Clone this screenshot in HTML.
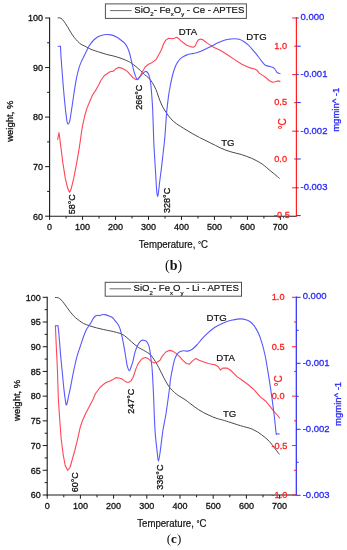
<!DOCTYPE html>
<html><head><meta charset="utf-8"><title>TG-DTA</title>
<style>
html,body{margin:0;padding:0;background:#fff;}
body{width:347px;height:550px;overflow:hidden;}
svg{display:block;font-family:"Liberation Sans", Arial, sans-serif;}
</style></head>
<body>
<svg width="347" height="550" viewBox="0 0 347 550">
<rect width="347" height="550" fill="#fff"/>
<line x1="49.60" y1="17.50" x2="49.60" y2="216.70" stroke="#1a1a1a" stroke-width="1.1"/>
<line x1="49.10" y1="216.20" x2="296.40" y2="216.20" stroke="#1a1a1a" stroke-width="1.1"/>
<line x1="45.10" y1="18.00" x2="49.60" y2="18.00" stroke="#1a1a1a" stroke-width="1.0"/>
<line x1="47.10" y1="42.77" x2="49.60" y2="42.77" stroke="#1a1a1a" stroke-width="1.0"/>
<line x1="45.10" y1="67.55" x2="49.60" y2="67.55" stroke="#1a1a1a" stroke-width="1.0"/>
<line x1="47.10" y1="92.32" x2="49.60" y2="92.32" stroke="#1a1a1a" stroke-width="1.0"/>
<line x1="45.10" y1="117.10" x2="49.60" y2="117.10" stroke="#1a1a1a" stroke-width="1.0"/>
<line x1="47.10" y1="141.88" x2="49.60" y2="141.88" stroke="#1a1a1a" stroke-width="1.0"/>
<line x1="45.10" y1="166.65" x2="49.60" y2="166.65" stroke="#1a1a1a" stroke-width="1.0"/>
<line x1="47.10" y1="191.42" x2="49.60" y2="191.42" stroke="#1a1a1a" stroke-width="1.0"/>
<line x1="45.10" y1="216.20" x2="49.60" y2="216.20" stroke="#1a1a1a" stroke-width="1.0"/>
<text x="43.10" y="21.30" fill="#111" stroke="#111" stroke-width="0.3" font-size="9" text-anchor="end" >100</text>
<text x="43.10" y="70.85" fill="#111" stroke="#111" stroke-width="0.3" font-size="9" text-anchor="end" >90</text>
<text x="43.10" y="120.40" fill="#111" stroke="#111" stroke-width="0.3" font-size="9" text-anchor="end" >80</text>
<text x="43.10" y="169.95" fill="#111" stroke="#111" stroke-width="0.3" font-size="9" text-anchor="end" >70</text>
<text x="43.10" y="219.50" fill="#111" stroke="#111" stroke-width="0.3" font-size="9" text-anchor="end" >60</text>
<line x1="49.60" y1="216.20" x2="49.60" y2="219.90" stroke="#1a1a1a" stroke-width="1.0"/>
<text x="49.60" y="229.90" fill="#111" stroke="#111" stroke-width="0.3" font-size="9" text-anchor="middle" >0</text>
<line x1="66.09" y1="216.20" x2="66.09" y2="218.50" stroke="#1a1a1a" stroke-width="1.0"/>
<line x1="82.57" y1="216.20" x2="82.57" y2="219.90" stroke="#1a1a1a" stroke-width="1.0"/>
<text x="82.57" y="229.90" fill="#111" stroke="#111" stroke-width="0.3" font-size="9" text-anchor="middle" >100</text>
<line x1="99.06" y1="216.20" x2="99.06" y2="218.50" stroke="#1a1a1a" stroke-width="1.0"/>
<line x1="115.54" y1="216.20" x2="115.54" y2="219.90" stroke="#1a1a1a" stroke-width="1.0"/>
<text x="115.54" y="229.90" fill="#111" stroke="#111" stroke-width="0.3" font-size="9" text-anchor="middle" >200</text>
<line x1="132.03" y1="216.20" x2="132.03" y2="218.50" stroke="#1a1a1a" stroke-width="1.0"/>
<line x1="148.51" y1="216.20" x2="148.51" y2="219.90" stroke="#1a1a1a" stroke-width="1.0"/>
<text x="148.51" y="229.90" fill="#111" stroke="#111" stroke-width="0.3" font-size="9" text-anchor="middle" >300</text>
<line x1="165.00" y1="216.20" x2="165.00" y2="218.50" stroke="#1a1a1a" stroke-width="1.0"/>
<line x1="181.48" y1="216.20" x2="181.48" y2="219.90" stroke="#1a1a1a" stroke-width="1.0"/>
<text x="181.48" y="229.90" fill="#111" stroke="#111" stroke-width="0.3" font-size="9" text-anchor="middle" >400</text>
<line x1="197.97" y1="216.20" x2="197.97" y2="218.50" stroke="#1a1a1a" stroke-width="1.0"/>
<line x1="214.45" y1="216.20" x2="214.45" y2="219.90" stroke="#1a1a1a" stroke-width="1.0"/>
<text x="214.45" y="229.90" fill="#111" stroke="#111" stroke-width="0.3" font-size="9" text-anchor="middle" >500</text>
<line x1="230.94" y1="216.20" x2="230.94" y2="218.50" stroke="#1a1a1a" stroke-width="1.0"/>
<line x1="247.42" y1="216.20" x2="247.42" y2="219.90" stroke="#1a1a1a" stroke-width="1.0"/>
<text x="247.42" y="229.90" fill="#111" stroke="#111" stroke-width="0.3" font-size="9" text-anchor="middle" >600</text>
<line x1="263.91" y1="216.20" x2="263.91" y2="218.50" stroke="#1a1a1a" stroke-width="1.0"/>
<line x1="280.39" y1="216.20" x2="280.39" y2="219.90" stroke="#1a1a1a" stroke-width="1.0"/>
<text x="280.39" y="229.90" fill="#111" stroke="#111" stroke-width="0.3" font-size="9" text-anchor="middle" >700</text>
<line x1="296.40" y1="17.30" x2="296.40" y2="216.70" stroke="#ff2020" stroke-width="1.2"/>
<line x1="292.10" y1="18.00" x2="296.40" y2="18.00" stroke="#ff2020" stroke-width="1.0"/>
<line x1="292.10" y1="74.60" x2="296.40" y2="74.60" stroke="#ff2020" stroke-width="1.0"/>
<line x1="292.10" y1="131.20" x2="296.40" y2="131.20" stroke="#ff2020" stroke-width="1.0"/>
<line x1="292.10" y1="187.80" x2="296.40" y2="187.80" stroke="#ff2020" stroke-width="1.0"/>
<line x1="296.40" y1="46.20" x2="300.70" y2="46.20" stroke="#2a2af5" stroke-width="1.0"/>
<line x1="296.40" y1="102.60" x2="300.70" y2="102.60" stroke="#2a2af5" stroke-width="1.0"/>
<line x1="296.40" y1="159.00" x2="300.70" y2="159.00" stroke="#2a2af5" stroke-width="1.0"/>
<line x1="296.40" y1="215.60" x2="300.70" y2="215.60" stroke="#2a2af5" stroke-width="1.0"/>
<line x1="294.10" y1="46.20" x2="296.40" y2="46.20" stroke="#ff2020" stroke-width="1.0"/>
<line x1="294.10" y1="102.60" x2="296.40" y2="102.60" stroke="#ff2020" stroke-width="1.0"/>
<line x1="294.10" y1="159.00" x2="296.40" y2="159.00" stroke="#ff2020" stroke-width="1.0"/>
<line x1="296.40" y1="18.00" x2="298.70" y2="18.00" stroke="#2a2af5" stroke-width="1.0"/>
<line x1="296.40" y1="74.60" x2="298.70" y2="74.60" stroke="#2a2af5" stroke-width="1.0"/>
<line x1="296.40" y1="131.20" x2="298.70" y2="131.20" stroke="#2a2af5" stroke-width="1.0"/>
<line x1="296.40" y1="187.80" x2="298.70" y2="187.80" stroke="#2a2af5" stroke-width="1.0"/>
<text x="287.00" y="49.00" fill="#ff2020" stroke="#ff2020" stroke-width="0.3" font-size="9.2" text-anchor="end" >1.0</text>
<text x="287.00" y="105.20" fill="#ff2020" stroke="#ff2020" stroke-width="0.3" font-size="9.2" text-anchor="end" >0.5</text>
<text x="287.00" y="161.60" fill="#ff2020" stroke="#ff2020" stroke-width="0.3" font-size="9.2" text-anchor="end" >0.0</text>
<text x="289.90" y="218.40" fill="#ff2020" stroke="#ff2020" stroke-width="0.3" font-size="9.2" text-anchor="end" >-0.5</text>
<text x="300.50" y="20.10" fill="#2a2af5" stroke="#2a2af5" stroke-width="0.3" font-size="9.5" text-anchor="start" >0.000</text>
<text x="300.50" y="76.90" fill="#2a2af5" stroke="#2a2af5" stroke-width="0.3" font-size="9.5" text-anchor="start" >-0.001</text>
<text x="300.50" y="133.50" fill="#2a2af5" stroke="#2a2af5" stroke-width="0.3" font-size="9.5" text-anchor="start" >-0.002</text>
<text x="300.50" y="190.10" fill="#2a2af5" stroke="#2a2af5" stroke-width="0.3" font-size="9.5" text-anchor="start" >-0.003</text>
<line x1="47.20" y1="296.80" x2="47.20" y2="495.50" stroke="#1a1a1a" stroke-width="1.1"/>
<line x1="46.70" y1="495.00" x2="296.30" y2="495.00" stroke="#1a1a1a" stroke-width="1.1"/>
<line x1="42.70" y1="297.30" x2="47.20" y2="297.30" stroke="#1a1a1a" stroke-width="1.0"/>
<line x1="44.70" y1="309.66" x2="47.20" y2="309.66" stroke="#1a1a1a" stroke-width="1.0"/>
<line x1="42.70" y1="322.01" x2="47.20" y2="322.01" stroke="#1a1a1a" stroke-width="1.0"/>
<line x1="44.70" y1="334.37" x2="47.20" y2="334.37" stroke="#1a1a1a" stroke-width="1.0"/>
<line x1="42.70" y1="346.72" x2="47.20" y2="346.72" stroke="#1a1a1a" stroke-width="1.0"/>
<line x1="44.70" y1="359.08" x2="47.20" y2="359.08" stroke="#1a1a1a" stroke-width="1.0"/>
<line x1="42.70" y1="371.44" x2="47.20" y2="371.44" stroke="#1a1a1a" stroke-width="1.0"/>
<line x1="44.70" y1="383.79" x2="47.20" y2="383.79" stroke="#1a1a1a" stroke-width="1.0"/>
<line x1="42.70" y1="396.15" x2="47.20" y2="396.15" stroke="#1a1a1a" stroke-width="1.0"/>
<line x1="44.70" y1="408.50" x2="47.20" y2="408.50" stroke="#1a1a1a" stroke-width="1.0"/>
<line x1="42.70" y1="420.86" x2="47.20" y2="420.86" stroke="#1a1a1a" stroke-width="1.0"/>
<line x1="44.70" y1="433.22" x2="47.20" y2="433.22" stroke="#1a1a1a" stroke-width="1.0"/>
<line x1="42.70" y1="445.57" x2="47.20" y2="445.57" stroke="#1a1a1a" stroke-width="1.0"/>
<line x1="44.70" y1="457.93" x2="47.20" y2="457.93" stroke="#1a1a1a" stroke-width="1.0"/>
<line x1="42.70" y1="470.28" x2="47.20" y2="470.28" stroke="#1a1a1a" stroke-width="1.0"/>
<line x1="44.70" y1="482.64" x2="47.20" y2="482.64" stroke="#1a1a1a" stroke-width="1.0"/>
<line x1="42.70" y1="495.00" x2="47.20" y2="495.00" stroke="#1a1a1a" stroke-width="1.0"/>
<text x="40.70" y="300.60" fill="#111" stroke="#111" stroke-width="0.3" font-size="9" text-anchor="end" >100</text>
<text x="40.70" y="325.31" fill="#111" stroke="#111" stroke-width="0.3" font-size="9" text-anchor="end" >95</text>
<text x="40.70" y="350.02" fill="#111" stroke="#111" stroke-width="0.3" font-size="9" text-anchor="end" >90</text>
<text x="40.70" y="374.73" fill="#111" stroke="#111" stroke-width="0.3" font-size="9" text-anchor="end" >85</text>
<text x="40.70" y="399.44" fill="#111" stroke="#111" stroke-width="0.3" font-size="9" text-anchor="end" >80</text>
<text x="40.70" y="424.15" fill="#111" stroke="#111" stroke-width="0.3" font-size="9" text-anchor="end" >75</text>
<text x="40.70" y="448.86" fill="#111" stroke="#111" stroke-width="0.3" font-size="9" text-anchor="end" >70</text>
<text x="40.70" y="473.57" fill="#111" stroke="#111" stroke-width="0.3" font-size="9" text-anchor="end" >65</text>
<text x="40.70" y="498.28" fill="#111" stroke="#111" stroke-width="0.3" font-size="9" text-anchor="end" >60</text>
<line x1="47.20" y1="495.00" x2="47.20" y2="498.70" stroke="#1a1a1a" stroke-width="1.0"/>
<text x="47.20" y="508.70" fill="#111" stroke="#111" stroke-width="0.3" font-size="9" text-anchor="middle" >0</text>
<line x1="63.80" y1="495.00" x2="63.80" y2="497.30" stroke="#1a1a1a" stroke-width="1.0"/>
<line x1="80.40" y1="495.00" x2="80.40" y2="498.70" stroke="#1a1a1a" stroke-width="1.0"/>
<text x="80.40" y="508.70" fill="#111" stroke="#111" stroke-width="0.3" font-size="9" text-anchor="middle" >100</text>
<line x1="97.00" y1="495.00" x2="97.00" y2="497.30" stroke="#1a1a1a" stroke-width="1.0"/>
<line x1="113.60" y1="495.00" x2="113.60" y2="498.70" stroke="#1a1a1a" stroke-width="1.0"/>
<text x="113.60" y="508.70" fill="#111" stroke="#111" stroke-width="0.3" font-size="9" text-anchor="middle" >200</text>
<line x1="130.20" y1="495.00" x2="130.20" y2="497.30" stroke="#1a1a1a" stroke-width="1.0"/>
<line x1="146.80" y1="495.00" x2="146.80" y2="498.70" stroke="#1a1a1a" stroke-width="1.0"/>
<text x="146.80" y="508.70" fill="#111" stroke="#111" stroke-width="0.3" font-size="9" text-anchor="middle" >300</text>
<line x1="163.40" y1="495.00" x2="163.40" y2="497.30" stroke="#1a1a1a" stroke-width="1.0"/>
<line x1="180.00" y1="495.00" x2="180.00" y2="498.70" stroke="#1a1a1a" stroke-width="1.0"/>
<text x="180.00" y="508.70" fill="#111" stroke="#111" stroke-width="0.3" font-size="9" text-anchor="middle" >400</text>
<line x1="196.60" y1="495.00" x2="196.60" y2="497.30" stroke="#1a1a1a" stroke-width="1.0"/>
<line x1="213.20" y1="495.00" x2="213.20" y2="498.70" stroke="#1a1a1a" stroke-width="1.0"/>
<text x="213.20" y="508.70" fill="#111" stroke="#111" stroke-width="0.3" font-size="9" text-anchor="middle" >500</text>
<line x1="229.80" y1="495.00" x2="229.80" y2="497.30" stroke="#1a1a1a" stroke-width="1.0"/>
<line x1="246.40" y1="495.00" x2="246.40" y2="498.70" stroke="#1a1a1a" stroke-width="1.0"/>
<text x="246.40" y="508.70" fill="#111" stroke="#111" stroke-width="0.3" font-size="9" text-anchor="middle" >600</text>
<line x1="263.00" y1="495.00" x2="263.00" y2="497.30" stroke="#1a1a1a" stroke-width="1.0"/>
<line x1="279.60" y1="495.00" x2="279.60" y2="498.70" stroke="#1a1a1a" stroke-width="1.0"/>
<text x="279.60" y="508.70" fill="#111" stroke="#111" stroke-width="0.3" font-size="9" text-anchor="middle" >700</text>
<line x1="296.30" y1="296.60" x2="296.30" y2="495.50" stroke="#2a2af5" stroke-width="1.2"/>
<line x1="292.00" y1="297.30" x2="296.30" y2="297.30" stroke="#ff2020" stroke-width="1.0"/>
<line x1="294.00" y1="322.01" x2="296.30" y2="322.01" stroke="#ff2020" stroke-width="1.0"/>
<line x1="292.00" y1="346.72" x2="296.30" y2="346.72" stroke="#ff2020" stroke-width="1.0"/>
<line x1="294.00" y1="371.43" x2="296.30" y2="371.43" stroke="#ff2020" stroke-width="1.0"/>
<line x1="292.00" y1="396.14" x2="296.30" y2="396.14" stroke="#ff2020" stroke-width="1.0"/>
<line x1="294.00" y1="420.85" x2="296.30" y2="420.85" stroke="#ff2020" stroke-width="1.0"/>
<line x1="292.00" y1="445.56" x2="296.30" y2="445.56" stroke="#ff2020" stroke-width="1.0"/>
<line x1="294.00" y1="470.27" x2="296.30" y2="470.27" stroke="#ff2020" stroke-width="1.0"/>
<line x1="292.00" y1="494.98" x2="296.30" y2="494.98" stroke="#ff2020" stroke-width="1.0"/>
<line x1="296.30" y1="297.30" x2="300.60" y2="297.30" stroke="#2a2af5" stroke-width="1.0"/>
<line x1="296.30" y1="330.30" x2="298.60" y2="330.30" stroke="#2a2af5" stroke-width="1.0"/>
<line x1="296.30" y1="363.30" x2="300.60" y2="363.30" stroke="#2a2af5" stroke-width="1.0"/>
<line x1="296.30" y1="396.30" x2="298.60" y2="396.30" stroke="#2a2af5" stroke-width="1.0"/>
<line x1="296.30" y1="429.30" x2="300.60" y2="429.30" stroke="#2a2af5" stroke-width="1.0"/>
<line x1="296.30" y1="462.30" x2="298.60" y2="462.30" stroke="#2a2af5" stroke-width="1.0"/>
<line x1="296.30" y1="495.30" x2="300.60" y2="495.30" stroke="#2a2af5" stroke-width="1.0"/>
<text x="284.50" y="300.00" fill="#ff2020" stroke="#ff2020" stroke-width="0.3" font-size="9.2" text-anchor="end" >1.0</text>
<text x="284.50" y="349.50" fill="#ff2020" stroke="#ff2020" stroke-width="0.3" font-size="9.2" text-anchor="end" >0.5</text>
<text x="284.50" y="399.00" fill="#ff2020" stroke="#ff2020" stroke-width="0.3" font-size="9.2" text-anchor="end" >0.0</text>
<text x="287.40" y="448.60" fill="#ff2020" stroke="#ff2020" stroke-width="0.3" font-size="9.2" text-anchor="end" >-0.5</text>
<text x="287.40" y="497.80" fill="#ff2020" stroke="#ff2020" stroke-width="0.3" font-size="9.2" text-anchor="end" >-1.0</text>
<text x="302.70" y="299.20" fill="#2a2af5" stroke="#2a2af5" stroke-width="0.3" font-size="9.5" text-anchor="start" >0.000</text>
<text x="302.70" y="365.50" fill="#2a2af5" stroke="#2a2af5" stroke-width="0.3" font-size="9.5" text-anchor="start" >-0.001</text>
<text x="302.70" y="431.70" fill="#2a2af5" stroke="#2a2af5" stroke-width="0.3" font-size="9.5" text-anchor="start" >-0.002</text>
<text x="302.70" y="497.60" fill="#2a2af5" stroke="#2a2af5" stroke-width="0.3" font-size="9.5" text-anchor="start" >-0.003</text>
<path d="M58.10,17.80 C58.58,17.88 60.05,17.73 61.00,18.30 C61.95,18.87 62.75,19.85 63.80,21.20 C64.85,22.55 66.15,24.57 67.30,26.40 C68.45,28.23 69.55,30.37 70.70,32.20 C71.85,34.03 73.03,35.87 74.20,37.40 C75.37,38.93 76.55,40.25 77.70,41.40 C78.85,42.55 79.95,43.53 81.10,44.30 C82.25,45.07 83.45,45.42 84.60,46.00 C85.75,46.58 86.73,47.17 88.00,47.80 C89.27,48.43 90.30,49.07 92.20,49.80 C94.10,50.53 97.00,51.43 99.40,52.20 C101.80,52.97 104.20,53.75 106.60,54.40 C109.00,55.05 111.40,55.45 113.80,56.10 C116.20,56.75 118.60,57.43 121.00,58.30 C123.40,59.17 126.43,60.47 128.20,61.30 C129.97,62.13 130.47,62.55 131.60,63.30 C132.73,64.05 133.55,64.62 135.00,65.80 C136.45,66.98 138.70,68.93 140.30,70.40 C141.90,71.87 143.17,73.30 144.60,74.60 C146.03,75.90 147.60,76.85 148.90,78.20 C150.20,79.55 151.22,80.80 152.40,82.70 C153.58,84.60 155.08,87.55 156.00,89.60 C156.92,91.65 157.23,93.13 157.90,95.00 C158.57,96.87 159.17,98.77 160.00,100.80 C160.83,102.83 161.82,105.17 162.90,107.20 C163.98,109.23 165.17,111.07 166.50,113.00 C167.83,114.93 169.22,117.00 170.90,118.80 C172.58,120.60 174.45,122.20 176.60,123.80 C178.75,125.40 181.40,126.90 183.80,128.40 C186.20,129.90 188.60,131.40 191.00,132.80 C193.40,134.20 196.67,135.95 198.20,136.80 C199.73,137.65 199.07,137.33 200.20,137.90 C201.33,138.47 203.33,139.38 205.00,140.20 C206.67,141.02 208.47,141.93 210.20,142.80 C211.93,143.67 213.67,144.53 215.40,145.40 C217.13,146.27 218.87,147.20 220.60,148.00 C222.33,148.80 224.08,149.57 225.80,150.20 C227.52,150.83 229.18,151.30 230.90,151.80 C232.62,152.30 234.37,152.75 236.10,153.20 C237.83,153.65 239.57,153.98 241.30,154.50 C243.03,155.02 244.77,155.67 246.50,156.30 C248.23,156.93 249.97,157.53 251.70,158.30 C253.43,159.07 255.17,159.95 256.90,160.90 C258.63,161.85 260.53,162.93 262.10,164.00 C263.67,165.07 264.95,166.20 266.30,167.30 C267.65,168.40 268.78,169.42 270.20,170.60 C271.62,171.78 273.28,173.13 274.80,174.40 C276.32,175.67 278.55,177.57 279.30,178.20" fill="none" stroke="#4a4a4a" stroke-width="1.0" stroke-linejoin="round" stroke-linecap="round"/>
<polyline points="57.7,139.5 59.0,132.5 60.9,147.1 62.8,162.4 65.4,178.9 67.9,189.1 69.6,192.3 71.1,189.1 73.6,178.9 76.8,162.4 79.4,147.1 80.4,140.0 81.4,133.0 82.5,125.8 84.7,116.0 86.9,108.4 89.6,101.8 92.4,95.3 95.6,90.4 98.9,84.4 101.1,80.0 104.2,75.7 110.0,71.8 113.4,71.1 115.8,68.8 118.6,67.4 121.5,68.1 124.4,69.5 127.3,71.4 130.2,74.6 133.1,77.8 135.9,79.6 138.1,78.9 140.3,76.0 142.4,71.7 145.3,66.7 148.2,64.5 151.1,63.1 153.2,61.6 156.1,59.5 159.3,53.8 161.5,49.5 163.6,43.7 165.8,40.1 168.7,38.3 171.6,38.7 174.5,38.3 176.6,37.2 178.8,38.7 180.9,40.9 183.8,43.0 186.7,45.2 190.3,46.6 193.2,47.3 195.3,45.9 196.8,42.3 198.2,40.1 200.4,39.1 202.9,39.7 207.2,43.1 213.0,46.9 220.2,50.3 227.4,54.7 234.6,59.6 241.8,64.2 249.0,67.6 254.6,69.0 256.9,70.2 259.2,73.1 262.7,75.4 266.1,77.7 269.0,80.5 272.5,82.3 275.4,81.7 277.7,80.9 280.0,81.4" fill="none" stroke="#ff4656" stroke-width="1.1" stroke-linejoin="round" stroke-linecap="round"/>
<polyline points="58.2,46.2 60.5,46.2" fill="none" stroke="#5858ff" stroke-width="1.1" stroke-linejoin="round" stroke-linecap="round"/>
<path d="M60.50,46.20 C60.58,47.90 60.72,51.97 61.00,56.40 C61.28,60.83 61.73,66.78 62.20,72.80 C62.67,78.82 63.27,86.48 63.80,92.50 C64.33,98.52 64.85,103.98 65.40,108.90 C65.95,113.82 66.60,119.50 67.10,122.00 C67.60,124.50 67.97,124.05 68.40,123.90 C68.83,123.75 69.15,123.60 69.70,121.10 C70.25,118.60 70.97,113.67 71.70,108.90 C72.43,104.13 73.28,97.70 74.10,92.50 C74.92,87.30 75.78,81.80 76.60,77.70 C77.42,73.60 78.18,70.63 79.00,67.90 C79.82,65.17 80.57,63.45 81.50,61.30 C82.43,59.15 83.32,57.60 84.60,55.00 C85.88,52.40 87.67,48.20 89.20,45.70 C90.73,43.20 92.27,41.53 93.80,40.00 C95.33,38.47 96.67,37.38 98.40,36.50 C100.13,35.62 102.10,34.97 104.20,34.70 C106.30,34.43 108.88,34.48 111.00,34.90 C113.12,35.32 115.27,36.35 116.90,37.20 C118.53,38.05 119.55,39.05 120.80,40.00 C122.05,40.95 123.32,41.70 124.40,42.90 C125.48,44.10 126.45,45.52 127.30,47.20 C128.15,48.88 128.78,50.60 129.50,53.00 C130.22,55.40 130.97,58.97 131.60,61.60 C132.23,64.23 132.70,66.52 133.30,68.80 C133.90,71.08 134.52,73.50 135.20,75.30 C135.88,77.10 136.68,79.23 137.40,79.60 C138.12,79.97 138.67,78.45 139.50,77.50 C140.33,76.55 141.37,74.92 142.40,73.90 C143.43,72.88 144.73,71.48 145.70,71.40 C146.67,71.32 147.55,72.38 148.20,73.40 C148.85,74.42 149.17,75.65 149.60,77.50 C150.03,79.35 150.43,81.42 150.80,84.50 C151.17,87.58 151.48,91.75 151.80,96.00 C152.12,100.25 152.38,102.67 152.70,110.00 C153.02,117.33 153.38,132.27 153.70,140.00 C154.02,147.73 154.28,150.95 154.60,156.40 C154.92,161.85 155.30,167.68 155.60,172.70 C155.90,177.72 156.17,182.98 156.40,186.50 C156.63,190.02 156.80,192.12 157.00,193.80 C157.20,195.48 157.38,196.60 157.60,196.60 C157.82,196.60 157.95,196.32 158.30,193.80 C158.65,191.28 159.18,185.73 159.70,181.50 C160.22,177.27 160.85,172.95 161.40,168.40 C161.95,163.85 162.47,158.93 163.00,154.20 C163.53,149.47 164.17,144.53 164.60,140.00 C165.03,135.47 165.28,131.38 165.60,127.00 C165.92,122.62 166.25,116.87 166.50,113.70 C166.75,110.53 166.73,111.13 167.10,108.00 C167.47,104.87 168.15,98.72 168.70,94.90 C169.25,91.08 169.85,88.00 170.40,85.10 C170.95,82.20 171.47,79.77 172.00,77.50 C172.53,75.23 172.97,73.50 173.60,71.50 C174.23,69.50 175.07,67.15 175.80,65.50 C176.53,63.85 177.18,62.78 178.00,61.60 C178.82,60.42 179.70,59.30 180.70,58.40 C181.70,57.50 182.90,56.80 184.00,56.20 C185.10,55.60 186.30,55.17 187.30,54.80 C188.30,54.43 189.13,54.20 190.00,54.00 C190.87,53.80 191.38,53.80 192.50,53.60 C193.62,53.40 195.37,53.17 196.70,52.80 C198.03,52.43 199.20,51.93 200.50,51.40 C201.80,50.87 203.15,50.23 204.50,49.60 C205.85,48.97 207.20,48.30 208.60,47.60 C210.00,46.90 211.45,46.15 212.90,45.40 C214.35,44.65 215.13,44.05 217.30,43.10 C219.47,42.15 223.78,40.37 225.90,39.70 C228.02,39.03 228.55,39.27 230.00,39.10 C231.45,38.93 233.07,38.68 234.60,38.70 C236.13,38.72 237.67,38.73 239.20,39.20 C240.73,39.67 242.25,40.50 243.80,41.50 C245.35,42.50 246.95,43.73 248.50,45.20 C250.05,46.67 251.57,48.53 253.10,50.30 C254.63,52.07 256.30,54.02 257.70,55.80 C259.10,57.58 260.28,59.47 261.50,61.00 C262.72,62.53 263.85,64.15 265.00,65.00 C266.15,65.85 267.15,65.72 268.40,66.10 C269.65,66.48 271.43,66.82 272.50,67.30 C273.57,67.78 274.03,68.13 274.80,69.00 C275.57,69.87 276.23,71.73 277.10,72.50 C277.97,73.27 279.52,73.42 280.00,73.60" fill="none" stroke="#5858ff" stroke-width="1.1" stroke-linejoin="round" stroke-linecap="round"/>
<path d="M55.40,297.50 C55.88,297.55 57.35,297.42 58.30,297.80 C59.25,298.18 60.15,298.88 61.10,299.80 C62.05,300.72 63.03,302.05 64.00,303.30 C64.97,304.55 65.93,305.97 66.90,307.30 C67.87,308.63 68.83,310.05 69.80,311.30 C70.77,312.55 71.75,313.73 72.70,314.80 C73.65,315.87 74.40,316.73 75.50,317.70 C76.60,318.67 77.95,319.63 79.30,320.60 C80.65,321.57 81.92,322.65 83.60,323.50 C85.28,324.35 87.23,324.97 89.40,325.70 C91.57,326.43 94.20,327.25 96.60,327.90 C99.00,328.55 101.43,329.08 103.80,329.60 C106.17,330.12 108.68,330.53 110.80,331.00 C112.92,331.47 114.78,331.93 116.50,332.40 C118.22,332.87 119.75,333.23 121.10,333.80 C122.45,334.37 123.43,334.98 124.60,335.80 C125.77,336.62 126.95,337.70 128.10,338.70 C129.25,339.70 130.35,340.78 131.50,341.80 C132.65,342.82 133.85,343.87 135.00,344.80 C136.15,345.73 137.25,346.63 138.40,347.40 C139.55,348.17 140.75,348.75 141.90,349.40 C143.05,350.05 143.95,350.48 145.30,351.30 C146.65,352.12 148.73,353.20 150.00,354.30 C151.27,355.40 151.93,356.58 152.90,357.90 C153.87,359.22 154.85,360.63 155.80,362.20 C156.75,363.77 157.65,365.48 158.60,367.30 C159.55,369.12 160.53,371.18 161.50,373.10 C162.47,375.02 163.43,377.00 164.40,378.80 C165.37,380.60 166.33,382.33 167.30,383.90 C168.27,385.47 169.00,386.77 170.20,388.20 C171.40,389.63 173.07,391.23 174.50,392.50 C175.93,393.77 177.05,394.62 178.80,395.80 C180.55,396.98 183.20,398.38 185.00,399.60 C186.80,400.82 188.07,401.95 189.60,403.10 C191.13,404.25 192.67,405.38 194.20,406.50 C195.73,407.62 197.27,408.80 198.80,409.80 C200.33,410.80 201.85,411.67 203.40,412.50 C204.95,413.33 206.55,414.07 208.10,414.80 C209.65,415.53 211.17,416.27 212.70,416.90 C214.23,417.53 215.77,418.12 217.30,418.60 C218.83,419.08 220.05,419.27 221.90,419.80 C223.75,420.33 225.30,420.82 228.40,421.80 C231.50,422.78 236.47,424.45 240.50,425.70 C244.53,426.95 249.07,427.78 252.60,429.30 C256.13,430.82 258.92,432.78 261.70,434.80 C264.48,436.82 267.03,439.03 269.30,441.40 C271.57,443.77 273.65,446.88 275.30,449.00 C276.95,451.12 278.55,453.25 279.20,454.10" fill="none" stroke="#4a4a4a" stroke-width="1.0" stroke-linejoin="round" stroke-linecap="round"/>
<polyline points="55.4,325.7 56.2,344.6 57.4,369.2 58.4,400.0 59.8,420.5 61.1,438.2 63.2,454.6 65.2,465.5 67.6,470.3 70.0,467.5 72.1,460.0 74.8,450.5 77.5,439.6 80.2,427.3 82.3,421.1 85.7,413.6 89.8,405.5 92.5,400.5 95.5,393.5 100.0,387.5 102.9,384.8 106.5,382.3 110.1,380.9 113.0,379.5 115.9,377.6 118.7,378.0 121.6,378.7 124.5,380.9 126.7,382.3 128.8,382.3 131.0,380.9 133.1,377.3 134.6,373.0 136.0,368.6 138.2,363.6 140.3,360.7 142.4,358.6 145.3,357.5 148.1,358.6 151.0,361.1 153.9,362.9 156.8,362.5 160.0,360.3 162.3,356.1 165.8,352.0 169.2,350.4 172.7,351.1 176.1,353.4 179.6,356.6 183.1,360.7 186.5,363.5 189.5,364.2 192.3,361.2 195.7,358.4 199.2,360.3 203.8,361.9 208.4,363.5 211.9,364.2 215.3,364.9 218.1,366.5 220.4,370.0 222.7,368.1 226.9,368.1 230.3,370.0 233.8,373.4 237.2,376.9 241.9,380.0 248.0,384.5 254.0,389.7 260.1,396.6 266.1,401.5 270.6,407.2 274.3,411.8 277.2,415.0 279.6,418.0" fill="none" stroke="#ff4656" stroke-width="1.1" stroke-linejoin="round" stroke-linecap="round"/>
<polyline points="55.7,325.7 57.9,325.7" fill="none" stroke="#5858ff" stroke-width="1.1" stroke-linejoin="round" stroke-linecap="round"/>
<path d="M57.90,325.70 C58.00,326.38 58.23,327.20 58.50,329.80 C58.77,332.40 59.13,336.92 59.50,341.30 C59.87,345.68 60.23,350.90 60.70,356.10 C61.17,361.30 61.77,367.03 62.30,372.50 C62.83,377.97 63.35,383.98 63.90,388.90 C64.45,393.82 65.17,399.32 65.60,402.00 C66.03,404.68 66.18,405.08 66.50,405.00 C66.82,404.92 67.13,403.08 67.50,401.50 C67.87,399.92 68.13,398.20 68.70,395.50 C69.27,392.80 70.17,388.95 70.90,385.30 C71.63,381.65 72.37,377.23 73.10,373.60 C73.83,369.97 74.57,366.65 75.30,363.50 C76.03,360.35 76.65,357.62 77.50,354.70 C78.35,351.78 79.43,348.90 80.40,346.00 C81.37,343.10 82.33,339.97 83.30,337.30 C84.27,334.63 85.32,331.85 86.20,330.00 C87.08,328.15 87.82,327.42 88.60,326.20 C89.38,324.98 90.13,323.97 90.90,322.70 C91.67,321.43 92.43,319.72 93.20,318.60 C93.97,317.48 94.72,316.57 95.50,316.00 C96.28,315.43 97.22,315.23 97.90,315.20 C98.58,315.17 98.93,315.87 99.60,315.80 C100.27,315.73 101.00,315.00 101.90,314.80 C102.80,314.60 103.58,314.33 105.00,314.60 C106.42,314.87 109.07,315.83 110.40,316.40 C111.73,316.97 112.23,317.28 113.00,318.00 C113.77,318.72 114.18,319.65 115.00,320.70 C115.82,321.75 117.07,322.98 117.90,324.30 C118.73,325.62 119.28,326.43 120.00,328.60 C120.72,330.77 121.47,333.93 122.20,337.30 C122.93,340.67 123.68,344.72 124.40,348.80 C125.12,352.88 126.00,358.85 126.50,361.80 C127.00,364.75 126.93,365.00 127.40,366.50 C127.87,368.00 128.70,370.68 129.30,370.80 C129.90,370.92 130.40,368.77 131.00,367.20 C131.60,365.63 132.20,363.98 132.90,361.40 C133.60,358.82 134.33,354.52 135.20,351.70 C136.07,348.88 137.15,346.30 138.10,344.50 C139.05,342.70 139.95,341.62 140.90,340.90 C141.85,340.18 142.83,340.08 143.80,340.20 C144.77,340.32 145.85,340.65 146.70,341.60 C147.55,342.55 148.30,343.98 148.90,345.90 C149.50,347.82 149.90,350.45 150.30,353.10 C150.70,355.75 150.98,358.98 151.30,361.80 C151.62,364.62 151.83,364.53 152.20,370.00 C152.57,375.47 153.03,384.60 153.50,394.60 C153.97,404.60 154.37,420.27 155.00,430.00 C155.63,439.73 156.73,447.82 157.30,453.00 C157.87,458.18 157.95,461.10 158.40,461.10 C158.85,461.10 159.23,458.18 160.00,453.00 C160.77,447.82 161.98,436.67 163.00,430.00 C164.02,423.33 165.00,420.05 166.10,413.00 C167.20,405.95 168.88,393.20 169.60,387.70 C170.32,382.20 169.88,383.33 170.40,380.00 C170.92,376.67 171.93,371.30 172.70,367.70 C173.47,364.10 174.05,360.90 175.00,358.40 C175.95,355.90 177.05,353.97 178.40,352.70 C179.75,351.43 181.55,351.07 183.10,350.80 C184.65,350.53 186.17,351.37 187.70,351.10 C189.23,350.83 190.77,350.22 192.30,349.20 C193.83,348.18 195.37,346.63 196.90,345.00 C198.43,343.37 199.97,341.13 201.50,339.40 C203.03,337.67 204.37,336.25 206.10,334.60 C207.83,332.95 209.98,330.97 211.90,329.50 C213.82,328.03 215.48,326.98 217.60,325.80 C219.72,324.62 222.32,323.32 224.60,322.40 C226.88,321.48 229.17,320.85 231.30,320.30 C233.43,319.75 235.38,319.30 237.40,319.10 C239.42,318.90 241.38,318.75 243.40,319.10 C245.42,319.45 247.73,320.10 249.50,321.20 C251.27,322.30 252.50,323.68 254.00,325.70 C255.50,327.72 257.13,330.27 258.50,333.30 C259.87,336.33 261.08,340.12 262.20,343.90 C263.32,347.68 264.30,351.72 265.20,356.00 C266.10,360.28 266.80,364.82 267.60,369.60 C268.40,374.38 269.23,379.67 270.00,384.70 C270.77,389.73 271.48,394.53 272.20,399.80 C272.92,405.07 273.65,410.77 274.30,416.30 C274.95,421.83 275.70,430.07 276.10,433.00 C276.50,435.93 276.20,433.75 276.70,433.90 C277.20,434.05 278.70,433.90 279.10,433.90" fill="none" stroke="#5858ff" stroke-width="1.1" stroke-linejoin="round" stroke-linecap="round"/>
<rect x="105.40" y="3.90" width="141.00" height="14.50" fill="#fff" stroke="#505050" stroke-width="1"/>
<line x1="110.10" y1="10.60" x2="131.70" y2="10.60" stroke="#6a6a6a" stroke-width="1.0"/>
<text x="134.30" y="13.10" fill="#111" stroke="#111" stroke-width="0.18" font-size="9.6">SiO<tspan font-size="6" dy="3.3">2</tspan><tspan dy="-3.3">- Fe</tspan><tspan font-size="6" dy="3.3">x</tspan><tspan dy="-3.3">O</tspan><tspan font-size="6" dy="3.3">y</tspan><tspan dy="-3.3"> - Ce - APTES</tspan></text>
<rect x="105.20" y="282.30" width="136.30" height="13.90" fill="#fff" stroke="#505050" stroke-width="1"/>
<line x1="109.50" y1="288.80" x2="131.10" y2="288.80" stroke="#6a6a6a" stroke-width="1.0"/>
<text x="133.60" y="291.40" fill="#111" stroke="#111" stroke-width="0.18" font-size="9.6">SiO<tspan font-size="6" dy="3.3">2</tspan><tspan dy="-3.3">- Fe</tspan><tspan font-size="6" dy="3.3">x</tspan><tspan dy="-3.3">O</tspan><tspan font-size="6" dy="3.3">y</tspan><tspan dy="-3.3"> - Li - APTES</tspan></text>
<text transform="translate(9.00,121.20) rotate(-90)" fill="#111" stroke="#111" stroke-width="0.3" font-size="9.5" text-anchor="middle" dominant-baseline="central" textLength="41.19" lengthAdjust="spacingAndGlyphs">weight, %</text>
<text transform="translate(16.00,400.30) rotate(-90)" fill="#111" stroke="#111" stroke-width="0.3" font-size="9.5" text-anchor="middle" dominant-baseline="central" textLength="41.19" lengthAdjust="spacingAndGlyphs">weight, %</text>
<text x="173.40" y="248.20" fill="#111" stroke="#111" stroke-width="0.2" font-size="10" text-anchor="middle" textLength="69.3" lengthAdjust="spacingAndGlyphs">Temperature, <tspan font-size="8" dy="-1">°</tspan><tspan dy="1">C</tspan></text>
<text x="171.90" y="526.60" fill="#111" stroke="#111" stroke-width="0.2" font-size="10" text-anchor="middle" textLength="69.3" lengthAdjust="spacingAndGlyphs">Temperature, <tspan font-size="8" dy="-1">°</tspan><tspan dy="1">C</tspan></text>
<text transform="translate(282.90,123.90) rotate(-90)" fill="#ff2020" stroke="#ff2020" stroke-width="0.3" font-size="10.0" text-anchor="middle" dominant-baseline="central" textLength="11.22" lengthAdjust="spacingAndGlyphs">°C</text>
<text transform="translate(278.90,381.00) rotate(-90)" fill="#ff2020" stroke="#ff2020" stroke-width="0.3" font-size="10.0" text-anchor="middle" dominant-baseline="central" textLength="11.22" lengthAdjust="spacingAndGlyphs">°C</text>
<text transform="translate(335.50,109.80) rotate(-90)" fill="#2a2af5" stroke="#2a2af5" stroke-width="0.3" font-size="9.5" text-anchor="middle" dominant-baseline="central" textLength="44.05" lengthAdjust="spacingAndGlyphs">mgmin^ -1</text>
<text transform="translate(337.00,403.90) rotate(-90)" fill="#2a2af5" stroke="#2a2af5" stroke-width="0.3" font-size="9.5" text-anchor="middle" dominant-baseline="central" textLength="44.05" lengthAdjust="spacingAndGlyphs">mgmin^ -1</text>
<text x="173.6" y="269.8" fill="#111" font-size="14" font-weight="bold" font-family='"Liberation Serif", "Times New Roman", serif' text-anchor="middle"><tspan font-weight="normal">(</tspan>b<tspan font-weight="normal">)</tspan></text>
<text x="174.0" y="543.3" fill="#111" font-size="13" font-weight="bold" font-family='"Liberation Serif", "Times New Roman", serif' text-anchor="middle"><tspan font-weight="normal">(</tspan>c<tspan font-weight="normal">)</tspan></text>
<text x="187.90" y="35.20" fill="#111" stroke="#111" stroke-width="0.22" font-size="9.6" text-anchor="middle" >DTA</text>
<text x="256.50" y="39.80" fill="#111" stroke="#111" stroke-width="0.22" font-size="9.6" text-anchor="middle" >DTG</text>
<text x="227.80" y="146.00" fill="#111" stroke="#111" stroke-width="0.22" font-size="9.6" text-anchor="middle" >TG</text>
<text x="216.70" y="320.70" fill="#111" stroke="#111" stroke-width="0.22" font-size="9.6" text-anchor="middle" >DTG</text>
<text x="225.60" y="361.00" fill="#111" stroke="#111" stroke-width="0.22" font-size="9.6" text-anchor="middle" >DTA</text>
<text x="229.60" y="416.50" fill="#111" stroke="#111" stroke-width="0.22" font-size="9.6" text-anchor="middle" >TG</text>
<text transform="translate(72.40,204.20) rotate(-90)" fill="#111" stroke="#111" stroke-width="0.3" font-size="9.0" text-anchor="middle" dominant-baseline="central" textLength="20.11" lengthAdjust="spacingAndGlyphs">58°C</text>
<text transform="translate(138.90,97.30) rotate(-90)" fill="#111" stroke="#111" stroke-width="0.3" font-size="9.0" text-anchor="middle" dominant-baseline="central" textLength="25.12" lengthAdjust="spacingAndGlyphs">266°C</text>
<text transform="translate(167.00,200.40) rotate(-90)" fill="#111" stroke="#111" stroke-width="0.3" font-size="9.0" text-anchor="middle" dominant-baseline="central" textLength="25.12" lengthAdjust="spacingAndGlyphs">328°C</text>
<text transform="translate(74.60,482.30) rotate(-90)" fill="#111" stroke="#111" stroke-width="0.3" font-size="9.0" text-anchor="middle" dominant-baseline="central" textLength="20.11" lengthAdjust="spacingAndGlyphs">60°C</text>
<text transform="translate(131.40,401.20) rotate(-90)" fill="#111" stroke="#111" stroke-width="0.3" font-size="9.0" text-anchor="middle" dominant-baseline="central" textLength="25.12" lengthAdjust="spacingAndGlyphs">247°C</text>
<text transform="translate(160.20,477.10) rotate(-90)" fill="#111" stroke="#111" stroke-width="0.3" font-size="9.0" text-anchor="middle" dominant-baseline="central" textLength="25.12" lengthAdjust="spacingAndGlyphs">336°C</text>
</svg>
</body></html>
